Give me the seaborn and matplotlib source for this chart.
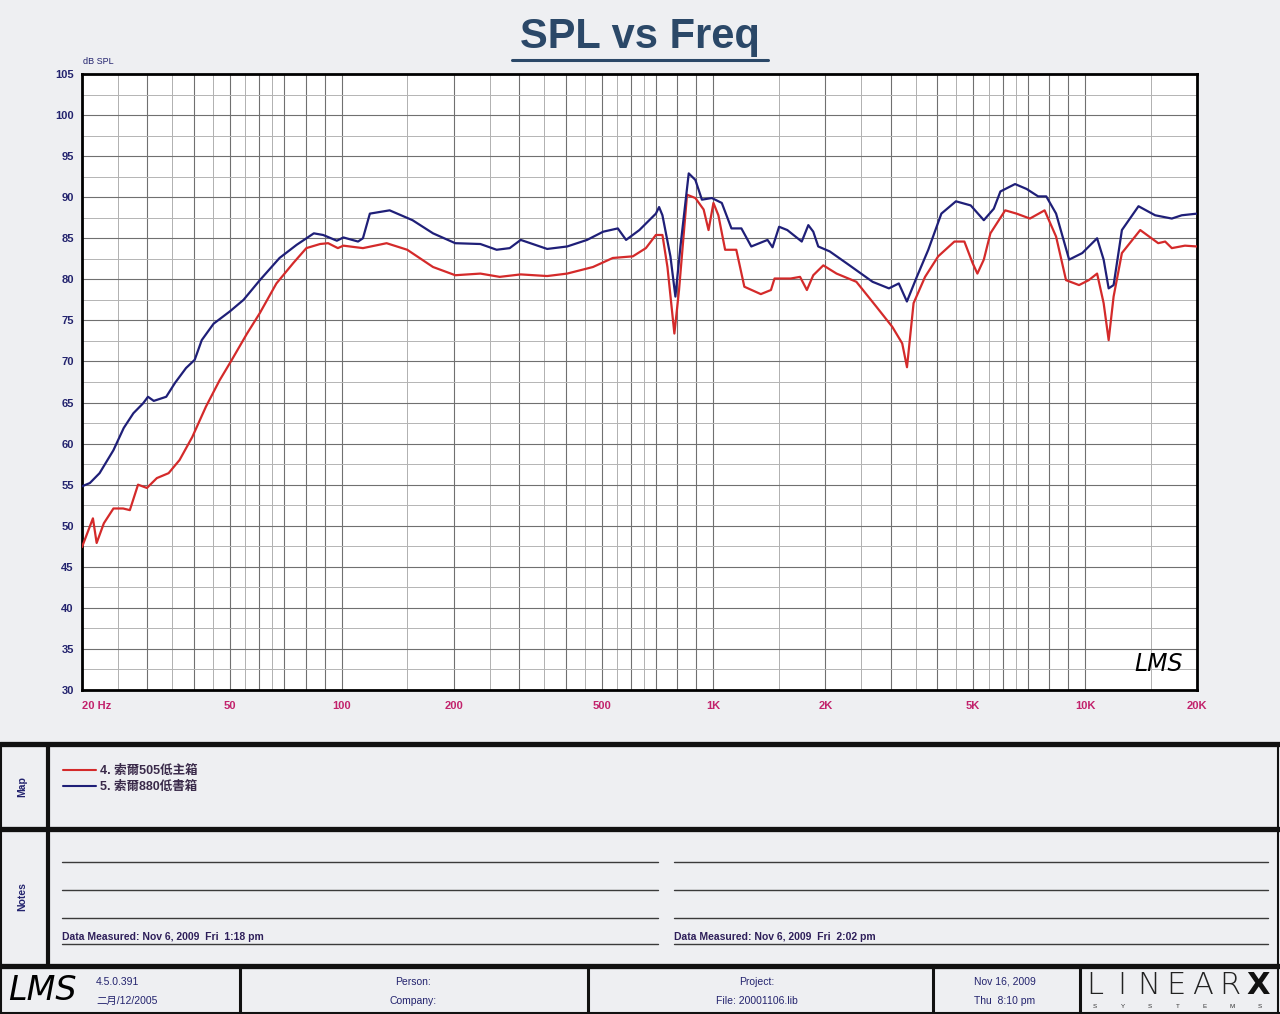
import numpy as np
import pandas as pd
import matplotlib
matplotlib.use("Agg")
import matplotlib.pyplot as plt
import seaborn as sns
from matplotlib.lines import Line2D

# ---------------- data ----------------
freq_red = [20, 21.4, 21.9, 22.9, 24.3, 25.8, 26.9, 28.3, 29.9, 31.8, 34.2, 36.6, 39.6, 43.1,
            46.9, 50.6, 55.6, 60.2, 66.7, 74.1, 80.3, 87.4, 91.9, 97.6, 101, 114, 132, 150,
            176, 202, 236, 266, 303, 357, 404, 474, 536, 607, 658, 700, 729, 752, 785, 808,
            849, 894, 941, 970, 1000, 1031, 1075, 1152, 1211, 1341, 1428, 1460, 1614, 1710,
            1784, 1856, 1975, 2144, 2424, 2740, 3030, 3220, 3317, 3455, 3710, 4024, 4450,
            4733, 4978, 5130, 5339, 5561, 6095, 6540, 7104, 7780, 8354, 8885, 9630, 10230,
            10770, 11216, 11570, 11930, 12560, 14070, 15730, 16420, 17110, 18560, 20000]
spl_red = [47.4, 50.9, 47.9, 50.3, 52.1, 52.1, 51.9, 55.0, 54.6, 55.8, 56.4, 58.0, 60.8, 64.5,
           67.7, 70.2, 73.4, 75.9, 79.5, 82.0, 83.8, 84.3, 84.4, 83.8, 84.1, 83.8, 84.4, 83.6,
           81.5, 80.5, 80.7, 80.3, 80.6, 80.4, 80.7, 81.5, 82.6, 82.8, 83.8, 85.4, 85.4, 81.5,
           73.4, 78.7, 90.3, 89.9, 88.5, 86.0, 89.3, 87.8, 83.6, 83.6, 79.1, 78.2, 78.7, 80.1,
           80.1, 80.3, 78.7, 80.5, 81.7, 80.7, 79.7, 76.7, 74.2, 72.2, 69.3, 77.1, 80.3, 82.8,
           84.6, 84.6, 82.0, 80.7, 82.4, 85.6, 88.4, 88.0, 87.4, 88.4, 85.2, 79.9, 79.3, 79.9,
           80.7, 77.1, 72.6, 77.9, 83.2, 86.0, 84.4, 84.6, 83.8, 84.1, 84.0]

freq_blue = [20, 21.0, 22.3, 24.3, 25.9, 27.5, 29.2, 30.1, 31.2, 33.7, 35.6, 38.1, 40.2, 42.0,
             45.2, 50.0, 54.4, 60.2, 68.0, 75.6, 84.1, 89.1, 97, 101, 110.6, 114, 119, 134.5,
             155, 176, 202, 236, 261, 283, 303, 357, 404, 457, 505, 553, 582, 632, 700, 714,
             729, 766, 790, 815, 858, 894, 931, 990, 1053, 1118, 1189, 1264, 1398, 1442, 1502,
             1580, 1728, 1800, 1856, 1914, 2055, 2324, 2680, 2966, 3153, 3315, 3525, 3785,
             4104, 4492, 4922, 5339, 5680, 5917, 6479, 6962, 7474, 7860, 8354, 9058, 9826,
             10770, 11216, 11570, 11930, 12560, 13920, 15430, 17110, 18200, 20000]
spl_blue = [54.8, 55.2, 56.4, 59.2, 61.9, 63.7, 64.9, 65.7, 65.2, 65.7, 67.4, 69.2, 70.2, 72.6,
            74.6, 76.1, 77.5, 79.9, 82.6, 84.2, 85.6, 85.4, 84.7, 85.1, 84.6, 85.0, 88.0, 88.4,
            87.2, 85.6, 84.4, 84.3, 83.6, 83.8, 84.8, 83.7, 84.0, 84.8, 85.8, 86.2, 84.8, 86.0,
            88.0, 88.8, 87.8, 82.8, 77.9, 84.0, 92.9, 92.1, 89.7, 89.9, 89.3, 86.2, 86.2, 84.0,
            84.8, 83.9, 86.4, 86.0, 84.6, 86.6, 85.8, 84.0, 83.4, 81.7, 79.7, 78.9, 79.5, 77.3,
            80.3, 83.6, 88.0, 89.5, 89.0, 87.2, 88.6, 90.7, 91.6, 91.0, 90.1, 90.1, 88.0, 82.4,
            83.2, 85.0, 82.4, 78.9, 79.3, 86.0, 88.9, 87.8, 87.4, 87.8, 88.0]

series_labels = ["4. 索爾505低主箱", "5. 索爾880低書箱"]
series_colors = ["#d42a2a", "#1f1f78"]

y_ticks = [105, 100, 95, 90, 85, 80, 75, 70, 65, 60, 55, 50, 45, 40, 35, 30]
x_tick_vals = [20, 50, 100, 200, 500, 1000, 2000, 5000, 10000, 20000]
x_tick_labels = ["20 Hz", "50", "100", "200", "500", "1K", "2K", "5K", "10K", "20K"]

df = pd.concat([
    pd.DataFrame({"freq": freq_red, "spl": spl_red, "series": series_labels[0]}),
    pd.DataFrame({"freq": freq_blue, "spl": spl_blue, "series": series_labels[1]}),
], ignore_index=True)

# ---------------- style ----------------
sns.set_theme(style="white")
plt.rcParams["font.family"] = ["Liberation Sans", "Noto Sans CJK TC", "DejaVu Sans"]

W, H = 1280, 1014
BG = "#eeeff2"
NAVY = "#23236e"
fig = plt.figure(figsize=(W / 100, H / 100), dpi=100, facecolor=BG)

bg = fig.add_axes([0, 0, 1, 1], zorder=0)
bg.set_xlim(0, W)
bg.set_ylim(H, 0)
bg.axis("off")
bg.set_facecolor(BG)

L, R, T, B = 82, 1197, 74, 690
ax = fig.add_axes([L / W, 1 - B / H, (R - L) / W, (B - T) / H], zorder=2)
ax.set_facecolor("white")

sns.lineplot(data=df, x="freq", y="spl", hue="series", palette=series_colors,
             sort=False, estimator=None, linewidth=1.6, ax=ax, legend=False, zorder=5)

ax.set_xscale("log")
ax.set_xlim(20, 20000)
ax.set_ylim(30, 105)

mults_major = [1, 2, 3, 4, 5, 6, 7, 8, 9]
mults_minor = [1.5, 2.5, 3.5, 4.5, 5.5, 6.5]
major_grid = [b * m for b in [10, 100, 1000, 10000] for m in mults_major if 20 <= b * m <= 20000]
minor_grid = [b * m for b in [10, 100, 1000, 10000] for m in mults_minor if 20 < b * m < 20000]
for xv in major_grid:
    ax.axvline(xv, color="#707070", lw=0.8, zorder=1)
for xv in minor_grid:
    ax.axvline(xv, color="#b0b0b0", lw=0.7, zorder=1)
for yv in np.arange(30, 105.1, 5):
    ax.axhline(yv, color="#707070", lw=0.8, zorder=1)
for yv in np.arange(32.5, 105, 5):
    ax.axhline(yv, color="#b4b4b4", lw=0.7, zorder=1)

ax.set_yticks(y_ticks)
ax.set_yticklabels([str(v) for v in y_ticks], fontsize=8, fontweight="bold", color=NAVY)
ax.set_xticks(x_tick_vals)
ax.set_xticklabels(x_tick_labels, fontsize=8, fontweight="bold", color="#c2226c")
ax.xaxis.set_minor_locator(matplotlib.ticker.NullLocator())
ax.tick_params(axis="both", length=0)
ax.tick_params(axis="y", pad=6)
ax.tick_params(axis="x", pad=8)
ax.get_xticklabels()[0].set_horizontalalignment("left")
ax.set_xlabel("")
ax.set_ylabel("")
for s in ax.spines.values():
    s.set_visible(True)
    s.set_color("black")
    s.set_linewidth(2)

ax.text(0.987, 0.022, "LMS", transform=ax.transAxes, ha="right", va="bottom",
        fontsize=17, style="italic", color="black", family="DejaVu Sans", fontweight="light", zorder=6)

# title
bg.text(640, 37, "SPL vs Freq", ha="center", va="center", fontsize=30, fontweight="bold", color="#2b4868")
bg.plot([512, 768], [60, 60], color="#2b4868", lw=2.2)
bg.text(83, 62, "dB SPL", ha="left", va="center", fontsize=6.5, color=NAVY)

# ---- form frame ----
thick = 3.8
bg.plot([0, W], [744, 744], color="#111", lw=thick)
bg.plot([0, W], [829, 829], color="#111", lw=thick)
bg.plot([0, W], [966, 966], color="#111", lw=thick)
bg.plot([48, 48], [744, 966], color="#111", lw=3.0)
bg.plot([1278, 1278], [744, 1014], color="#111", lw=1.5)
bg.plot([1, 1], [744, 1014], color="#111", lw=1.5)
bg.plot([0, W], [1013, 1013], color="#111", lw=1.5)
for xs in [240, 588, 933, 1080]:
    bg.plot([xs, xs], [966, 1014], color="#111", lw=2.2)

bg.text(22, 787, "Map", rotation=90, ha="center", va="center", fontsize=7.5, fontweight="bold", color=NAVY)
bg.text(22, 897, "Notes", rotation=90, ha="center", va="center", fontsize=7.5, fontweight="bold", color=NAVY)

handles = [Line2D([0], [0], color=c, lw=1.5) for c in series_colors]
fig.legend(handles, series_labels, loc="upper left", bbox_to_anchor=(58 / W, 1 - 760 / H),
           frameon=False, fontsize=9, handlelength=2.6, handletextpad=0.4,
           labelspacing=0.35, borderaxespad=0, labelcolor="#3a2a4a",
           prop={"weight": "bold", "size": 9})

for yv in [862, 890, 918, 944]:
    bg.plot([62, 658], [yv, yv], color="#3a3a3a", lw=1.0)
    bg.plot([674, 1268], [yv, yv], color="#3a3a3a", lw=1.0)
bg.text(62, 940, "Data Measured: Nov 6, 2009  Fri  1:18 pm", ha="left", va="baseline",
        fontsize=7.5, fontweight="bold", color="#2e1f5a")
bg.text(674, 940, "Data Measured: Nov 6, 2009  Fri  2:02 pm", ha="left", va="baseline",
        fontsize=7.5, fontweight="bold", color="#2e1f5a")

bg.text(42, 990, "LMS", ha="center", va="center", fontsize=24, style="italic",
        family="DejaVu Sans", fontweight="light", color="black")
bg.text(96, 982, "4.5.0.391", ha="left", va="center", fontsize=7.5, color=NAVY)
bg.text(96, 1001, "二月/12/2005", ha="left", va="center", fontsize=7.5, color=NAVY)
bg.text(413, 982, "Person:", ha="center", va="center", fontsize=7.5, color=NAVY)
bg.text(413, 1001, "Company:", ha="center", va="center", fontsize=7.5, color=NAVY)
bg.text(757, 982, "Project:", ha="center", va="center", fontsize=7.5, color=NAVY)
bg.text(757, 1001, "File: 20001106.lib", ha="center", va="center", fontsize=7.5, color=NAVY)
bg.text(1005, 982, "Nov 16, 2009", ha="center", va="center", fontsize=7.5, color=NAVY)
bg.text(1005, 1001, "Thu  8:10 pm", ha="center", va="center", fontsize=7.5, color=NAVY)
for i, ch in enumerate("LINEAR"):
    bg.text(1095 + i * 27, 986, ch, ha="center", va="center", fontsize=22,
            family="DejaVu Sans", fontweight="ultralight", color="#222")
bg.text(1258, 986, "X", ha="center", va="center", fontsize=22, fontweight="bold",
        family="DejaVu Sans", color="#111")
for i, ch in enumerate("SYSTEMS"):
    bg.text(1095 + i * 27.5, 1006, ch, ha="center", va="center", fontsize=4.5, color="#333")

fig.savefig("out.png", dpi=100, facecolor=BG)
